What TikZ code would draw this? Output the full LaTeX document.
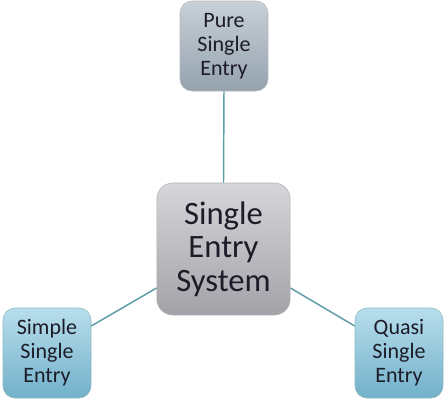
\documentclass[tikz,border=0pt]{standalone}
\usepackage{fontspec}
\setmainfont{Carlito}
\usetikzlibrary{shadings}
\definecolor{txt}{HTML}{1C1C28}
\definecolor{link}{HTML}{5E9CA6}
\definecolor{gtop}{HTML}{C8D0D8}
\definecolor{gbot}{HTML}{94A2AE}
\definecolor{ctop}{HTML}{D6D6DA}
\definecolor{cbot}{HTML}{A2A2A8}
\definecolor{btop}{HTML}{B8DEEC}
\definecolor{bbot}{HTML}{72B0CA}
\tikzset{
  x=0.75pt, y=-0.75pt,
  box/.style={rounded corners=9pt, draw=#1, line width=0.4pt, align=center,
    text=txt, inner sep=0pt, font=\fontsize{16.5}{18}\selectfont},
  smallbox/.style={box=gray!55, minimum width=66pt, minimum height=67.5pt},
  graybox/.style={smallbox, top color=gtop, bottom color=gbot},
  bluebox/.style={smallbox, draw=link!70, top color=btop, bottom color=bbot},
  centerbox/.style={box=gray!60, rounded corners=12pt, minimum width=100pt, minimum height=99pt,
    top color=ctop, bottom color=cbot, font=\fontsize{24.5}{25}\selectfont},
  conn/.style={draw=link, line width=1.1pt}
}
\begin{document}
\begin{tikzpicture}
\useasboundingbox (0,0) rectangle (447,400);
\node[centerbox] (c) at (223.5,249) {Single\\Entry\\System};
\node[graybox] (t) at (224,46) {Pure\\Single\\Entry};
\node[bluebox] (l) at (47,353) {Simple\\Single\\Entry};
\node[bluebox] (r) at (399,353) {Quasi\\Single\\Entry};
\draw[conn] (t.south) -- (c.north);
\draw[conn] (l.east |- 0,326) -- (c.west |- 0,288);
\draw[conn] (c.east |- 0,288) -- (r.west |- 0,326);
\end{tikzpicture}
\end{document}
